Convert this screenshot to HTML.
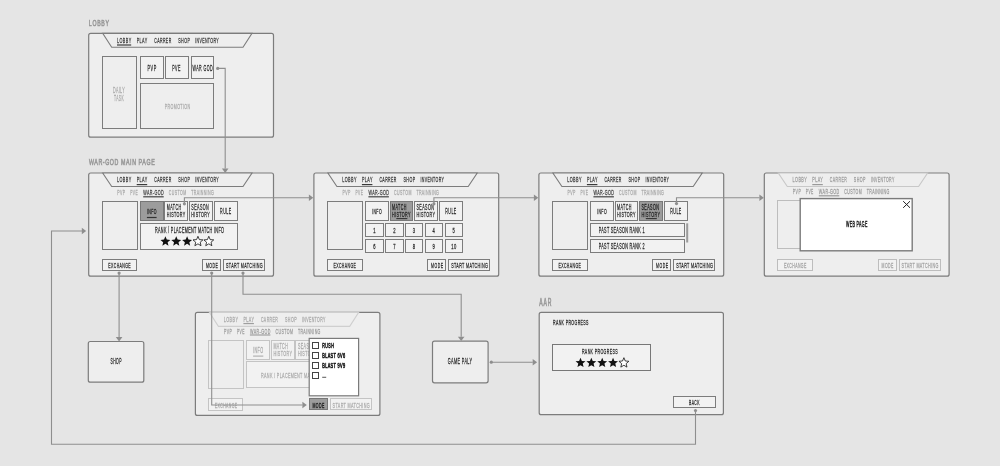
<!DOCTYPE html>
<html><head><meta charset="utf-8"><style>
html,body{margin:0;padding:0;background:#e5e5e5;width:1000px;height:466px;overflow:hidden;}
svg{display:block;will-change:transform;transform:translateZ(0);}
svg text{font-family:"Liberation Sans", sans-serif;}
</style></head><body>
<svg width="1000" height="466" viewBox="0 0 1000 466" font-family="Liberation Sans, sans-serif">
<rect x="0" y="0" width="1000" height="466" fill="#e5e5e5"/>
<text transform="translate(88.80,25.50) scale(0.527,1)" font-size="9.88" fill="#9a9a9a" font-weight="normal" stroke="#9a9a9a" stroke-width="0.55" vector-effect="non-scaling-stroke" textLength="38.33" lengthAdjust="spacing">LOBBY</text>
<text transform="translate(88.90,165.40) scale(0.553,1)" font-size="9.59" fill="#9a9a9a" font-weight="normal" stroke="#9a9a9a" stroke-width="0.55" vector-effect="non-scaling-stroke" textLength="118.99" lengthAdjust="spacing">WAR-GOD MAIN PAGE</text>
<text transform="translate(539.20,306.10) scale(0.468,1)" font-size="10.90" fill="#9a9a9a" font-weight="normal" stroke="#9a9a9a" stroke-width="0.55" vector-effect="non-scaling-stroke" textLength="26.06" lengthAdjust="spacing">AAR</text>
<rect x="88.70" y="33.40" width="184.80" height="103.80" rx="2" fill="#eeeeee" stroke="#7c7c7c" stroke-width="1.2"/>
<polygon points="102.70,33.40 252.00,33.40 243.00,47.30 111.70,47.30" fill="#eeeeee" stroke="#7c7c7c" stroke-width="1.1"/>
<text transform="translate(117.00,42.60) scale(0.496,1)" font-size="7.56" fill="#3a3a3a" font-weight="normal" stroke="#3a3a3a" stroke-width="0.22" vector-effect="non-scaling-stroke" textLength="28.64" lengthAdjust="spacing">LOBBY</text>
<path d="M117.00 45.00 L131.20 45.00" fill="none" stroke="#3a3a3a" stroke-width="1.2"/>
<text transform="translate(136.70,42.60) scale(0.492,1)" font-size="7.56" fill="#3a3a3a" font-weight="normal" stroke="#3a3a3a" stroke-width="0.22" vector-effect="non-scaling-stroke" textLength="21.33" lengthAdjust="spacing">PLAY</text>
<text transform="translate(154.20,42.60) scale(0.469,1)" font-size="7.56" fill="#3a3a3a" font-weight="normal" stroke="#3a3a3a" stroke-width="0.22" vector-effect="non-scaling-stroke" textLength="36.27" lengthAdjust="spacing">CARRER</text>
<text transform="translate(178.20,42.60) scale(0.481,1)" font-size="7.56" fill="#3a3a3a" font-weight="normal" stroke="#3a3a3a" stroke-width="0.22" vector-effect="non-scaling-stroke" textLength="24.34" lengthAdjust="spacing">SHOP</text>
<text transform="translate(195.20,42.60) scale(0.472,1)" font-size="7.56" fill="#3a3a3a" font-weight="normal" stroke="#3a3a3a" stroke-width="0.22" vector-effect="non-scaling-stroke" textLength="49.80" lengthAdjust="spacing">INVENTORY</text>
<rect x="102.50" y="56.50" width="34.00" height="72.00" rx="0" fill="#eeeeee" stroke="#7c7c7c" stroke-width="1"/>
<rect x="140.50" y="56.50" width="23.00" height="22.00" rx="0" fill="#f2f2f2" stroke="#7c7c7c" stroke-width="1"/>
<rect x="165.50" y="56.50" width="23.00" height="22.00" rx="0" fill="#f2f2f2" stroke="#7c7c7c" stroke-width="1"/>
<rect x="191.50" y="56.50" width="22.00" height="22.00" rx="0" fill="#f2f2f2" stroke="#7c7c7c" stroke-width="1"/>
<rect x="140.50" y="83.50" width="73.00" height="45.00" rx="0" fill="#eeeeee" stroke="#7c7c7c" stroke-width="1"/>
<text transform="translate(113.00,92.90) scale(0.430,1)" font-size="8.43" fill="#aaa" font-weight="normal" stroke="#aaa" stroke-width="0.2" vector-effect="non-scaling-stroke" textLength="26.98" lengthAdjust="spacing">DAILY</text>
<text transform="translate(114.00,101.00) scale(0.395,1)" font-size="8.43" fill="#aaa" font-weight="normal" stroke="#aaa" stroke-width="0.2" vector-effect="non-scaling-stroke" textLength="24.31" lengthAdjust="spacing">TASK</text>
<text transform="translate(164.70,109.30) scale(0.464,1)" font-size="7.85" fill="#aaa" font-weight="normal" stroke="#aaa" stroke-width="0.2" vector-effect="non-scaling-stroke" textLength="55.00" lengthAdjust="spacing">PROMOTION</text>
<text transform="translate(147.50,71.00) scale(0.454,1)" font-size="8.43" fill="#2a2a2a" font-weight="normal" stroke="#2a2a2a" stroke-width="0.22" vector-effect="non-scaling-stroke" textLength="19.17" lengthAdjust="spacing">PVP</text>
<text transform="translate(172.20,71.00) scale(0.428,1)" font-size="8.43" fill="#2a2a2a" font-weight="normal" stroke="#2a2a2a" stroke-width="0.22" vector-effect="non-scaling-stroke" textLength="19.17" lengthAdjust="spacing">PVE</text>
<text transform="translate(192.60,71.00) scale(0.428,1)" font-size="8.43" fill="#2a2a2a" font-weight="normal" stroke="#2a2a2a" stroke-width="0.22" vector-effect="non-scaling-stroke" textLength="46.48" lengthAdjust="spacing">WAR GOD</text>
<rect x="88.70" y="173.00" width="184.80" height="103.20" rx="2" fill="#eeeeee" stroke="#7c7c7c" stroke-width="1.2"/>
<polygon points="102.70,173.00 252.00,173.00 243.00,186.50 111.70,186.50" fill="#eeeeee" stroke="#7c7c7c" stroke-width="1.1"/>
<text transform="translate(117.00,182.20) scale(0.496,1)" font-size="7.56" fill="#3a3a3a" font-weight="normal" stroke="#3a3a3a" stroke-width="0.22" vector-effect="non-scaling-stroke" textLength="28.64" lengthAdjust="spacing">LOBBY</text>
<text transform="translate(136.70,182.20) scale(0.492,1)" font-size="7.56" fill="#3a3a3a" font-weight="normal" stroke="#3a3a3a" stroke-width="0.22" vector-effect="non-scaling-stroke" textLength="21.33" lengthAdjust="spacing">PLAY</text>
<path d="M136.70 184.60 L147.20 184.60" fill="none" stroke="#3a3a3a" stroke-width="1.2"/>
<text transform="translate(154.20,182.20) scale(0.469,1)" font-size="7.56" fill="#3a3a3a" font-weight="normal" stroke="#3a3a3a" stroke-width="0.22" vector-effect="non-scaling-stroke" textLength="36.27" lengthAdjust="spacing">CARRER</text>
<text transform="translate(178.20,182.20) scale(0.481,1)" font-size="7.56" fill="#3a3a3a" font-weight="normal" stroke="#3a3a3a" stroke-width="0.22" vector-effect="non-scaling-stroke" textLength="24.34" lengthAdjust="spacing">SHOP</text>
<text transform="translate(195.20,182.20) scale(0.472,1)" font-size="7.56" fill="#3a3a3a" font-weight="normal" stroke="#3a3a3a" stroke-width="0.22" vector-effect="non-scaling-stroke" textLength="49.80" lengthAdjust="spacing">INVENTORY</text>
<text transform="translate(117.20,195.20) scale(0.465,1)" font-size="7.56" fill="#a8a8a8" font-weight="normal" stroke="#a8a8a8" stroke-width="0.2" vector-effect="non-scaling-stroke" textLength="17.19" lengthAdjust="spacing">PVP</text>
<text transform="translate(130.20,195.20) scale(0.436,1)" font-size="7.56" fill="#a8a8a8" font-weight="normal" stroke="#a8a8a8" stroke-width="0.2" vector-effect="non-scaling-stroke" textLength="17.19" lengthAdjust="spacing">PVE</text>
<text transform="translate(143.20,195.20) scale(0.486,1)" font-size="7.56" fill="#444" font-weight="normal" stroke="#444" stroke-width="0.22" vector-effect="non-scaling-stroke" textLength="42.14" lengthAdjust="spacing">WAR-GOD</text>
<path d="M143.20 196.80 L163.70 196.80" fill="none" stroke="#444" stroke-width="1.2"/>
<text transform="translate(168.70,195.20) scale(0.472,1)" font-size="7.56" fill="#a8a8a8" font-weight="normal" stroke="#a8a8a8" stroke-width="0.2" vector-effect="non-scaling-stroke" textLength="37.06" lengthAdjust="spacing">CUSTOM</text>
<text transform="translate(191.20,195.20) scale(0.476,1)" font-size="7.56" fill="#a8a8a8" font-weight="normal" stroke="#a8a8a8" stroke-width="0.2" vector-effect="non-scaling-stroke" textLength="47.24" lengthAdjust="spacing">TRAINNING</text>
<rect x="102.50" y="201.50" width="35.00" height="48.00" rx="0" fill="#eeeeee" stroke="#7c7c7c" stroke-width="1"/>
<rect x="102.50" y="259.50" width="34.00" height="11.00" rx="0" fill="#f2f2f2" stroke="#7c7c7c" stroke-width="1"/>
<text transform="translate(108.30,268.10) scale(0.439,1)" font-size="7.99" fill="#2a2a2a" font-weight="normal" stroke="#2a2a2a" stroke-width="0.22" vector-effect="non-scaling-stroke" textLength="50.99" lengthAdjust="spacing">EXCHANGE</text>
<rect x="202.50" y="259.50" width="18.00" height="11.00" rx="0" fill="#f2f2f2" stroke="#7c7c7c" stroke-width="1"/>
<text transform="translate(205.90,268.10) scale(0.437,1)" font-size="7.99" fill="#2a2a2a" font-weight="normal" stroke="#2a2a2a" stroke-width="0.22" vector-effect="non-scaling-stroke" textLength="27.25" lengthAdjust="spacing">MODE</text>
<rect x="223.50" y="259.50" width="41.00" height="11.00" rx="0" fill="#f2f2f2" stroke="#7c7c7c" stroke-width="1"/>
<text transform="translate(226.00,268.10) scale(0.464,1)" font-size="7.99" fill="#2a2a2a" font-weight="normal" stroke="#2a2a2a" stroke-width="0.22" vector-effect="non-scaling-stroke" textLength="79.07" lengthAdjust="spacing">START MATCHING</text>
<rect x="140.50" y="201.50" width="23.00" height="19.00" rx="0" fill="#9c9c9c" stroke="#777" stroke-width="1"/>
<text transform="translate(146.90,214.20) scale(0.463,1)" font-size="7.56" fill="#222" font-weight="normal" stroke="#222" stroke-width="0.22" vector-effect="non-scaling-stroke" textLength="20.52" lengthAdjust="spacing">INFO</text>
<path d="M146.90 217.50 L156.60 217.50" fill="none" stroke="#333" stroke-width="1.2"/>
<rect x="164.50" y="201.50" width="23.00" height="19.00" rx="0" fill="#f2f2f2" stroke="#7c7c7c" stroke-width="1"/>
<text transform="translate(166.80,210.00) scale(0.447,1)" font-size="8.14" fill="#2a2a2a" font-weight="normal" stroke="#2a2a2a" stroke-width="0.22" vector-effect="non-scaling-stroke" textLength="32.20" lengthAdjust="spacing">MATCH</text>
<text transform="translate(166.80,216.60) scale(0.498,1)" font-size="7.41" fill="#2a2a2a" font-weight="normal" stroke="#2a2a2a" stroke-width="0.22" vector-effect="non-scaling-stroke" textLength="37.14" lengthAdjust="spacing">HISTORY</text>
<rect x="189.50" y="201.50" width="23.00" height="19.00" rx="0" fill="#f2f2f2" stroke="#7c7c7c" stroke-width="1"/>
<text transform="translate(191.30,210.00) scale(0.451,1)" font-size="8.14" fill="#2a2a2a" font-weight="normal" stroke="#2a2a2a" stroke-width="0.22" vector-effect="non-scaling-stroke" textLength="38.55" lengthAdjust="spacing">SEASON</text>
<text transform="translate(191.30,216.60) scale(0.498,1)" font-size="7.41" fill="#2a2a2a" font-weight="normal" stroke="#2a2a2a" stroke-width="0.22" vector-effect="non-scaling-stroke" textLength="37.14" lengthAdjust="spacing">HISTORY</text>
<rect x="214.50" y="201.50" width="23.00" height="19.00" rx="0" fill="#f2f2f2" stroke="#7c7c7c" stroke-width="1"/>
<text transform="translate(220.10,213.90) scale(0.438,1)" font-size="8.29" fill="#2a2a2a" font-weight="normal" stroke="#2a2a2a" stroke-width="0.22" vector-effect="non-scaling-stroke" textLength="25.11" lengthAdjust="spacing">RULE</text>
<rect x="140.50" y="223.50" width="97.00" height="26.00" rx="0" fill="#f2f2f2" stroke="#7c7c7c" stroke-width="1"/>
<text transform="translate(155.00,232.80) scale(0.446,1)" font-size="8.43" fill="#2a2a2a" font-weight="normal" stroke="#2a2a2a" stroke-width="0.22" vector-effect="non-scaling-stroke" textLength="154.54" lengthAdjust="spacing">RANK / PLACEMENT MATCH INFO</text>
<polygon points="165.40,236.30 166.78,239.61 170.35,239.89 167.63,242.22 168.46,245.71 165.40,243.84 162.34,245.71 163.17,242.22 160.45,239.89 164.02,239.61" fill="#111"/>
<polygon points="176.25,236.30 177.63,239.61 181.20,239.89 178.48,242.22 179.31,245.71 176.25,243.84 173.19,245.71 174.02,242.22 171.30,239.89 174.87,239.61" fill="#111"/>
<polygon points="187.10,236.30 188.48,239.61 192.05,239.89 189.33,242.22 190.16,245.71 187.10,243.84 184.04,245.71 184.87,242.22 182.15,239.89 185.72,239.61" fill="#111"/>
<polygon points="197.95,236.30 199.33,239.61 202.90,239.89 200.18,242.22 201.01,245.71 197.95,243.84 194.89,245.71 195.72,242.22 193.00,239.89 196.57,239.61" fill="#fff" stroke="#111" stroke-width="0.8"/>
<polygon points="208.80,236.30 210.18,239.61 213.75,239.89 211.03,242.22 211.86,245.71 208.80,243.84 205.74,245.71 206.57,242.22 203.85,239.89 207.42,239.61" fill="#fff" stroke="#111" stroke-width="0.8"/>
<rect x="313.90" y="173.00" width="184.80" height="103.20" rx="2" fill="#eeeeee" stroke="#7c7c7c" stroke-width="1.2"/>
<polygon points="327.90,173.00 477.20,173.00 468.20,186.50 336.90,186.50" fill="#eeeeee" stroke="#7c7c7c" stroke-width="1.1"/>
<text transform="translate(342.20,182.20) scale(0.496,1)" font-size="7.56" fill="#3a3a3a" font-weight="normal" stroke="#3a3a3a" stroke-width="0.22" vector-effect="non-scaling-stroke" textLength="28.64" lengthAdjust="spacing">LOBBY</text>
<text transform="translate(361.90,182.20) scale(0.492,1)" font-size="7.56" fill="#3a3a3a" font-weight="normal" stroke="#3a3a3a" stroke-width="0.22" vector-effect="non-scaling-stroke" textLength="21.33" lengthAdjust="spacing">PLAY</text>
<path d="M361.90 184.60 L372.40 184.60" fill="none" stroke="#3a3a3a" stroke-width="1.2"/>
<text transform="translate(379.40,182.20) scale(0.469,1)" font-size="7.56" fill="#3a3a3a" font-weight="normal" stroke="#3a3a3a" stroke-width="0.22" vector-effect="non-scaling-stroke" textLength="36.27" lengthAdjust="spacing">CARRER</text>
<text transform="translate(403.40,182.20) scale(0.481,1)" font-size="7.56" fill="#3a3a3a" font-weight="normal" stroke="#3a3a3a" stroke-width="0.22" vector-effect="non-scaling-stroke" textLength="24.34" lengthAdjust="spacing">SHOP</text>
<text transform="translate(420.40,182.20) scale(0.472,1)" font-size="7.56" fill="#3a3a3a" font-weight="normal" stroke="#3a3a3a" stroke-width="0.22" vector-effect="non-scaling-stroke" textLength="49.80" lengthAdjust="spacing">INVENTORY</text>
<text transform="translate(342.40,195.20) scale(0.465,1)" font-size="7.56" fill="#a8a8a8" font-weight="normal" stroke="#a8a8a8" stroke-width="0.2" vector-effect="non-scaling-stroke" textLength="17.19" lengthAdjust="spacing">PVP</text>
<text transform="translate(355.40,195.20) scale(0.436,1)" font-size="7.56" fill="#a8a8a8" font-weight="normal" stroke="#a8a8a8" stroke-width="0.2" vector-effect="non-scaling-stroke" textLength="17.19" lengthAdjust="spacing">PVE</text>
<text transform="translate(368.40,195.20) scale(0.486,1)" font-size="7.56" fill="#444" font-weight="normal" stroke="#444" stroke-width="0.22" vector-effect="non-scaling-stroke" textLength="42.14" lengthAdjust="spacing">WAR-GOD</text>
<path d="M368.40 196.80 L388.90 196.80" fill="none" stroke="#444" stroke-width="1.2"/>
<text transform="translate(393.90,195.20) scale(0.472,1)" font-size="7.56" fill="#a8a8a8" font-weight="normal" stroke="#a8a8a8" stroke-width="0.2" vector-effect="non-scaling-stroke" textLength="37.06" lengthAdjust="spacing">CUSTOM</text>
<text transform="translate(416.40,195.20) scale(0.476,1)" font-size="7.56" fill="#a8a8a8" font-weight="normal" stroke="#a8a8a8" stroke-width="0.2" vector-effect="non-scaling-stroke" textLength="47.24" lengthAdjust="spacing">TRAINNING</text>
<rect x="327.50" y="201.50" width="35.00" height="48.00" rx="0" fill="#eeeeee" stroke="#7c7c7c" stroke-width="1"/>
<rect x="327.50" y="259.50" width="35.00" height="11.00" rx="0" fill="#f2f2f2" stroke="#7c7c7c" stroke-width="1"/>
<text transform="translate(333.50,268.10) scale(0.439,1)" font-size="7.99" fill="#2a2a2a" font-weight="normal" stroke="#2a2a2a" stroke-width="0.22" vector-effect="non-scaling-stroke" textLength="50.99" lengthAdjust="spacing">EXCHANGE</text>
<rect x="427.50" y="259.50" width="18.00" height="11.00" rx="0" fill="#f2f2f2" stroke="#7c7c7c" stroke-width="1"/>
<text transform="translate(431.10,268.10) scale(0.437,1)" font-size="7.99" fill="#2a2a2a" font-weight="normal" stroke="#2a2a2a" stroke-width="0.22" vector-effect="non-scaling-stroke" textLength="27.25" lengthAdjust="spacing">MODE</text>
<rect x="448.50" y="259.50" width="41.00" height="11.00" rx="0" fill="#f2f2f2" stroke="#7c7c7c" stroke-width="1"/>
<text transform="translate(451.20,268.10) scale(0.464,1)" font-size="7.99" fill="#2a2a2a" font-weight="normal" stroke="#2a2a2a" stroke-width="0.22" vector-effect="non-scaling-stroke" textLength="79.07" lengthAdjust="spacing">START MATCHING</text>
<rect x="365.50" y="201.50" width="23.00" height="19.00" rx="0" fill="#f2f2f2" stroke="#7c7c7c" stroke-width="1"/>
<text transform="translate(372.10,214.20) scale(0.463,1)" font-size="7.56" fill="#2a2a2a" font-weight="normal" stroke="#2a2a2a" stroke-width="0.22" vector-effect="non-scaling-stroke" textLength="20.52" lengthAdjust="spacing">INFO</text>
<rect x="390.50" y="201.50" width="22.00" height="19.00" rx="0" fill="#9c9c9c" stroke="#777" stroke-width="1"/>
<text transform="translate(392.00,210.00) scale(0.447,1)" font-size="8.14" fill="#222" font-weight="normal" stroke="#222" stroke-width="0.22" vector-effect="non-scaling-stroke" textLength="32.20" lengthAdjust="spacing">MATCH</text>
<text transform="translate(392.00,216.60) scale(0.498,1)" font-size="7.41" fill="#222" font-weight="normal" stroke="#222" stroke-width="0.22" vector-effect="non-scaling-stroke" textLength="37.14" lengthAdjust="spacing">HISTORY</text>
<path d="M396.30 218.60 L407.30 218.60" fill="none" stroke="#333" stroke-width="1.1"/>
<rect x="414.50" y="201.50" width="23.00" height="19.00" rx="0" fill="#f2f2f2" stroke="#7c7c7c" stroke-width="1"/>
<text transform="translate(416.50,210.00) scale(0.451,1)" font-size="8.14" fill="#2a2a2a" font-weight="normal" stroke="#2a2a2a" stroke-width="0.22" vector-effect="non-scaling-stroke" textLength="38.55" lengthAdjust="spacing">SEASON</text>
<text transform="translate(416.50,216.60) scale(0.498,1)" font-size="7.41" fill="#2a2a2a" font-weight="normal" stroke="#2a2a2a" stroke-width="0.22" vector-effect="non-scaling-stroke" textLength="37.14" lengthAdjust="spacing">HISTORY</text>
<rect x="439.50" y="201.50" width="23.00" height="19.00" rx="0" fill="#f2f2f2" stroke="#7c7c7c" stroke-width="1"/>
<text transform="translate(445.30,213.90) scale(0.438,1)" font-size="8.29" fill="#2a2a2a" font-weight="normal" stroke="#2a2a2a" stroke-width="0.22" vector-effect="non-scaling-stroke" textLength="25.11" lengthAdjust="spacing">RULE</text>
<rect x="365.50" y="223.50" width="18.00" height="13.00" rx="0" fill="#f2f2f2" stroke="#7c7c7c" stroke-width="1"/>
<text transform="translate(373.15,232.70) scale(0.544,1)" font-size="7.56" fill="#2a2a2a" font-weight="normal" stroke="#2a2a2a" stroke-width="0.22" vector-effect="non-scaling-stroke" textLength="4.78" lengthAdjust="spacing">1</text>
<rect x="385.50" y="223.50" width="18.00" height="13.00" rx="0" fill="#f2f2f2" stroke="#7c7c7c" stroke-width="1"/>
<text transform="translate(393.15,232.70) scale(0.544,1)" font-size="7.56" fill="#2a2a2a" font-weight="normal" stroke="#2a2a2a" stroke-width="0.22" vector-effect="non-scaling-stroke" textLength="4.78" lengthAdjust="spacing">2</text>
<rect x="405.50" y="223.50" width="17.00" height="13.00" rx="0" fill="#f2f2f2" stroke="#7c7c7c" stroke-width="1"/>
<text transform="translate(412.85,232.70) scale(0.544,1)" font-size="7.56" fill="#2a2a2a" font-weight="normal" stroke="#2a2a2a" stroke-width="0.22" vector-effect="non-scaling-stroke" textLength="4.78" lengthAdjust="spacing">3</text>
<rect x="425.50" y="223.50" width="17.00" height="13.00" rx="0" fill="#f2f2f2" stroke="#7c7c7c" stroke-width="1"/>
<text transform="translate(432.55,232.70) scale(0.544,1)" font-size="7.56" fill="#2a2a2a" font-weight="normal" stroke="#2a2a2a" stroke-width="0.22" vector-effect="non-scaling-stroke" textLength="4.78" lengthAdjust="spacing">4</text>
<rect x="445.50" y="223.50" width="17.00" height="13.00" rx="0" fill="#f2f2f2" stroke="#7c7c7c" stroke-width="1"/>
<text transform="translate(452.45,232.70) scale(0.544,1)" font-size="7.56" fill="#2a2a2a" font-weight="normal" stroke="#2a2a2a" stroke-width="0.22" vector-effect="non-scaling-stroke" textLength="4.78" lengthAdjust="spacing">5</text>
<rect x="365.50" y="239.50" width="18.00" height="13.00" rx="0" fill="#f2f2f2" stroke="#7c7c7c" stroke-width="1"/>
<text transform="translate(373.15,248.70) scale(0.544,1)" font-size="7.56" fill="#2a2a2a" font-weight="normal" stroke="#2a2a2a" stroke-width="0.22" vector-effect="non-scaling-stroke" textLength="4.78" lengthAdjust="spacing">6</text>
<rect x="385.50" y="239.50" width="18.00" height="13.00" rx="0" fill="#f2f2f2" stroke="#7c7c7c" stroke-width="1"/>
<text transform="translate(393.15,248.70) scale(0.544,1)" font-size="7.56" fill="#2a2a2a" font-weight="normal" stroke="#2a2a2a" stroke-width="0.22" vector-effect="non-scaling-stroke" textLength="4.78" lengthAdjust="spacing">7</text>
<rect x="405.50" y="239.50" width="17.00" height="13.00" rx="0" fill="#f2f2f2" stroke="#7c7c7c" stroke-width="1"/>
<text transform="translate(412.85,248.70) scale(0.544,1)" font-size="7.56" fill="#2a2a2a" font-weight="normal" stroke="#2a2a2a" stroke-width="0.22" vector-effect="non-scaling-stroke" textLength="4.78" lengthAdjust="spacing">8</text>
<rect x="425.50" y="239.50" width="17.00" height="13.00" rx="0" fill="#f2f2f2" stroke="#7c7c7c" stroke-width="1"/>
<text transform="translate(432.55,248.70) scale(0.544,1)" font-size="7.56" fill="#2a2a2a" font-weight="normal" stroke="#2a2a2a" stroke-width="0.22" vector-effect="non-scaling-stroke" textLength="4.78" lengthAdjust="spacing">9</text>
<rect x="445.50" y="239.50" width="17.00" height="13.00" rx="0" fill="#f2f2f2" stroke="#7c7c7c" stroke-width="1"/>
<text transform="translate(451.15,248.70) scale(0.544,1)" font-size="7.56" fill="#2a2a2a" font-weight="normal" stroke="#2a2a2a" stroke-width="0.22" vector-effect="non-scaling-stroke" textLength="9.55" lengthAdjust="spacing">10</text>
<rect x="538.90" y="173.00" width="184.80" height="103.20" rx="2" fill="#eeeeee" stroke="#7c7c7c" stroke-width="1.2"/>
<polygon points="552.90,173.00 702.20,173.00 693.20,186.50 561.90,186.50" fill="#eeeeee" stroke="#7c7c7c" stroke-width="1.1"/>
<text transform="translate(567.20,182.20) scale(0.496,1)" font-size="7.56" fill="#3a3a3a" font-weight="normal" stroke="#3a3a3a" stroke-width="0.22" vector-effect="non-scaling-stroke" textLength="28.64" lengthAdjust="spacing">LOBBY</text>
<text transform="translate(586.90,182.20) scale(0.492,1)" font-size="7.56" fill="#3a3a3a" font-weight="normal" stroke="#3a3a3a" stroke-width="0.22" vector-effect="non-scaling-stroke" textLength="21.33" lengthAdjust="spacing">PLAY</text>
<path d="M586.90 184.60 L597.40 184.60" fill="none" stroke="#3a3a3a" stroke-width="1.2"/>
<text transform="translate(604.40,182.20) scale(0.469,1)" font-size="7.56" fill="#3a3a3a" font-weight="normal" stroke="#3a3a3a" stroke-width="0.22" vector-effect="non-scaling-stroke" textLength="36.27" lengthAdjust="spacing">CARRER</text>
<text transform="translate(628.40,182.20) scale(0.481,1)" font-size="7.56" fill="#3a3a3a" font-weight="normal" stroke="#3a3a3a" stroke-width="0.22" vector-effect="non-scaling-stroke" textLength="24.34" lengthAdjust="spacing">SHOP</text>
<text transform="translate(645.40,182.20) scale(0.472,1)" font-size="7.56" fill="#3a3a3a" font-weight="normal" stroke="#3a3a3a" stroke-width="0.22" vector-effect="non-scaling-stroke" textLength="49.80" lengthAdjust="spacing">INVENTORY</text>
<text transform="translate(567.40,195.20) scale(0.465,1)" font-size="7.56" fill="#a8a8a8" font-weight="normal" stroke="#a8a8a8" stroke-width="0.2" vector-effect="non-scaling-stroke" textLength="17.19" lengthAdjust="spacing">PVP</text>
<text transform="translate(580.40,195.20) scale(0.436,1)" font-size="7.56" fill="#a8a8a8" font-weight="normal" stroke="#a8a8a8" stroke-width="0.2" vector-effect="non-scaling-stroke" textLength="17.19" lengthAdjust="spacing">PVE</text>
<text transform="translate(593.40,195.20) scale(0.486,1)" font-size="7.56" fill="#444" font-weight="normal" stroke="#444" stroke-width="0.22" vector-effect="non-scaling-stroke" textLength="42.14" lengthAdjust="spacing">WAR-GOD</text>
<path d="M593.40 196.80 L613.90 196.80" fill="none" stroke="#444" stroke-width="1.2"/>
<text transform="translate(618.90,195.20) scale(0.472,1)" font-size="7.56" fill="#a8a8a8" font-weight="normal" stroke="#a8a8a8" stroke-width="0.2" vector-effect="non-scaling-stroke" textLength="37.06" lengthAdjust="spacing">CUSTOM</text>
<text transform="translate(641.40,195.20) scale(0.476,1)" font-size="7.56" fill="#a8a8a8" font-weight="normal" stroke="#a8a8a8" stroke-width="0.2" vector-effect="non-scaling-stroke" textLength="47.24" lengthAdjust="spacing">TRAINNING</text>
<rect x="552.50" y="201.50" width="35.00" height="48.00" rx="0" fill="#eeeeee" stroke="#7c7c7c" stroke-width="1"/>
<rect x="552.50" y="259.50" width="35.00" height="11.00" rx="0" fill="#f2f2f2" stroke="#7c7c7c" stroke-width="1"/>
<text transform="translate(558.50,268.10) scale(0.439,1)" font-size="7.99" fill="#2a2a2a" font-weight="normal" stroke="#2a2a2a" stroke-width="0.22" vector-effect="non-scaling-stroke" textLength="50.99" lengthAdjust="spacing">EXCHANGE</text>
<rect x="652.50" y="259.50" width="18.00" height="11.00" rx="0" fill="#f2f2f2" stroke="#7c7c7c" stroke-width="1"/>
<text transform="translate(656.10,268.10) scale(0.437,1)" font-size="7.99" fill="#2a2a2a" font-weight="normal" stroke="#2a2a2a" stroke-width="0.22" vector-effect="non-scaling-stroke" textLength="27.25" lengthAdjust="spacing">MODE</text>
<rect x="673.50" y="259.50" width="41.00" height="11.00" rx="0" fill="#f2f2f2" stroke="#7c7c7c" stroke-width="1"/>
<text transform="translate(676.20,268.10) scale(0.464,1)" font-size="7.99" fill="#2a2a2a" font-weight="normal" stroke="#2a2a2a" stroke-width="0.22" vector-effect="non-scaling-stroke" textLength="79.07" lengthAdjust="spacing">START MATCHING</text>
<rect x="590.50" y="201.50" width="23.00" height="19.00" rx="0" fill="#f2f2f2" stroke="#7c7c7c" stroke-width="1"/>
<text transform="translate(597.10,214.20) scale(0.463,1)" font-size="7.56" fill="#2a2a2a" font-weight="normal" stroke="#2a2a2a" stroke-width="0.22" vector-effect="non-scaling-stroke" textLength="20.52" lengthAdjust="spacing">INFO</text>
<rect x="615.50" y="201.50" width="22.00" height="19.00" rx="0" fill="#f2f2f2" stroke="#7c7c7c" stroke-width="1"/>
<text transform="translate(617.00,210.00) scale(0.447,1)" font-size="8.14" fill="#2a2a2a" font-weight="normal" stroke="#2a2a2a" stroke-width="0.22" vector-effect="non-scaling-stroke" textLength="32.20" lengthAdjust="spacing">MATCH</text>
<text transform="translate(617.00,216.60) scale(0.498,1)" font-size="7.41" fill="#2a2a2a" font-weight="normal" stroke="#2a2a2a" stroke-width="0.22" vector-effect="non-scaling-stroke" textLength="37.14" lengthAdjust="spacing">HISTORY</text>
<rect x="639.50" y="201.50" width="23.00" height="19.00" rx="0" fill="#9c9c9c" stroke="#777" stroke-width="1"/>
<text transform="translate(641.50,210.00) scale(0.451,1)" font-size="8.14" fill="#222" font-weight="normal" stroke="#222" stroke-width="0.22" vector-effect="non-scaling-stroke" textLength="38.55" lengthAdjust="spacing">SEASON</text>
<text transform="translate(641.50,216.60) scale(0.498,1)" font-size="7.41" fill="#222" font-weight="normal" stroke="#222" stroke-width="0.22" vector-effect="non-scaling-stroke" textLength="37.14" lengthAdjust="spacing">HISTORY</text>
<path d="M645.80 218.60 L656.80 218.60" fill="none" stroke="#333" stroke-width="1.1"/>
<rect x="664.50" y="201.50" width="23.00" height="19.00" rx="0" fill="#f2f2f2" stroke="#7c7c7c" stroke-width="1"/>
<text transform="translate(670.30,213.90) scale(0.438,1)" font-size="8.29" fill="#2a2a2a" font-weight="normal" stroke="#2a2a2a" stroke-width="0.22" vector-effect="non-scaling-stroke" textLength="25.11" lengthAdjust="spacing">RULE</text>
<rect x="590.50" y="223.50" width="94.00" height="13.00" rx="0" fill="#f2f2f2" stroke="#7c7c7c" stroke-width="1"/>
<text transform="translate(598.80,232.80) scale(0.455,1)" font-size="8.14" fill="#2a2a2a" font-weight="normal" stroke="#2a2a2a" stroke-width="0.22" vector-effect="non-scaling-stroke" textLength="100.41" lengthAdjust="spacing">PAST SEASON RANK 1</text>
<rect x="590.50" y="239.50" width="94.00" height="13.00" rx="0" fill="#f2f2f2" stroke="#7c7c7c" stroke-width="1"/>
<text transform="translate(598.80,248.80) scale(0.455,1)" font-size="8.14" fill="#2a2a2a" font-weight="normal" stroke="#2a2a2a" stroke-width="0.22" vector-effect="non-scaling-stroke" textLength="100.41" lengthAdjust="spacing">PAST SEASON RANK 2</text>
<rect x="686.20" y="223.30" width="2" height="19.2" fill="#9a9a9a"/>
<rect x="764.30" y="173.00" width="184.80" height="103.20" rx="2" fill="#eeeeee" stroke="#7c7c7c" stroke-width="1.2"/>
<polygon points="778.30,173.00 927.60,173.00 918.60,186.50 787.30,186.50" fill="#eeeeee" stroke="#c8c8c8" stroke-width="1.1"/>
<text transform="translate(792.60,182.20) scale(0.496,1)" font-size="7.56" fill="#9a9a9a" font-weight="normal" stroke="#9a9a9a" stroke-width="0.2" vector-effect="non-scaling-stroke" textLength="28.64" lengthAdjust="spacing">LOBBY</text>
<text transform="translate(812.30,182.20) scale(0.492,1)" font-size="7.56" fill="#9a9a9a" font-weight="normal" stroke="#9a9a9a" stroke-width="0.2" vector-effect="non-scaling-stroke" textLength="21.33" lengthAdjust="spacing">PLAY</text>
<path d="M812.30 184.60 L822.80 184.60" fill="none" stroke="#999" stroke-width="1.2"/>
<text transform="translate(829.80,182.20) scale(0.469,1)" font-size="7.56" fill="#9a9a9a" font-weight="normal" stroke="#9a9a9a" stroke-width="0.2" vector-effect="non-scaling-stroke" textLength="36.27" lengthAdjust="spacing">CARRER</text>
<text transform="translate(853.80,182.20) scale(0.481,1)" font-size="7.56" fill="#9a9a9a" font-weight="normal" stroke="#9a9a9a" stroke-width="0.2" vector-effect="non-scaling-stroke" textLength="24.34" lengthAdjust="spacing">SHOP</text>
<text transform="translate(870.80,182.20) scale(0.472,1)" font-size="7.56" fill="#9a9a9a" font-weight="normal" stroke="#9a9a9a" stroke-width="0.2" vector-effect="non-scaling-stroke" textLength="49.80" lengthAdjust="spacing">INVENTORY</text>
<text transform="translate(792.80,194.20) scale(0.465,1)" font-size="7.56" fill="#9a9a9a" font-weight="normal" stroke="#9a9a9a" stroke-width="0.2" vector-effect="non-scaling-stroke" textLength="17.19" lengthAdjust="spacing">PVP</text>
<text transform="translate(805.80,194.20) scale(0.436,1)" font-size="7.56" fill="#9a9a9a" font-weight="normal" stroke="#9a9a9a" stroke-width="0.2" vector-effect="non-scaling-stroke" textLength="17.19" lengthAdjust="spacing">PVE</text>
<text transform="translate(818.80,194.20) scale(0.486,1)" font-size="7.56" fill="#9a9a9a" font-weight="normal" stroke="#9a9a9a" stroke-width="0.2" vector-effect="non-scaling-stroke" textLength="42.14" lengthAdjust="spacing">WAR-GOD</text>
<path d="M818.80 195.80 L839.30 195.80" fill="none" stroke="#9a9a9a" stroke-width="1.2"/>
<text transform="translate(844.30,194.20) scale(0.472,1)" font-size="7.56" fill="#9a9a9a" font-weight="normal" stroke="#9a9a9a" stroke-width="0.2" vector-effect="non-scaling-stroke" textLength="37.06" lengthAdjust="spacing">CUSTOM</text>
<text transform="translate(866.80,194.20) scale(0.476,1)" font-size="7.56" fill="#9a9a9a" font-weight="normal" stroke="#9a9a9a" stroke-width="0.2" vector-effect="non-scaling-stroke" textLength="47.24" lengthAdjust="spacing">TRAINNING</text>
<rect x="777.50" y="200.50" width="35.00" height="48.00" rx="0" fill="#eeeeee" stroke="#bdbdbd" stroke-width="1"/>
<rect x="777.50" y="259.50" width="35.00" height="11.00" rx="0" fill="#f2f2f2" stroke="#bdbdbd" stroke-width="1"/>
<text transform="translate(783.90,268.10) scale(0.439,1)" font-size="7.99" fill="#a0a0a0" font-weight="normal" stroke="#a0a0a0" stroke-width="0.2" vector-effect="non-scaling-stroke" textLength="50.99" lengthAdjust="spacing">EXCHANGE</text>
<rect x="878.50" y="259.50" width="18.00" height="11.00" rx="0" fill="#f2f2f2" stroke="#bdbdbd" stroke-width="1"/>
<text transform="translate(881.50,268.10) scale(0.437,1)" font-size="7.99" fill="#a0a0a0" font-weight="normal" stroke="#a0a0a0" stroke-width="0.2" vector-effect="non-scaling-stroke" textLength="27.25" lengthAdjust="spacing">MODE</text>
<rect x="899.50" y="259.50" width="41.00" height="11.00" rx="0" fill="#f2f2f2" stroke="#bdbdbd" stroke-width="1"/>
<text transform="translate(901.60,268.10) scale(0.464,1)" font-size="7.99" fill="#a0a0a0" font-weight="normal" stroke="#a0a0a0" stroke-width="0.2" vector-effect="non-scaling-stroke" textLength="79.07" lengthAdjust="spacing">START MATCHING</text>
<rect x="800.2" y="198.6" width="112" height="52.2" fill="#fff" stroke="#7a7a7a" stroke-width="1.4"/>
<path d="M903.20 201.20 L910.00 207.80" fill="none" stroke="#222" stroke-width="1.0"/>
<path d="M910.00 201.20 L903.20 207.80" fill="none" stroke="#222" stroke-width="1.0"/>
<text transform="translate(846.00,226.80) scale(0.438,1)" font-size="8.14" fill="#222" font-weight="normal" stroke="#222" stroke-width="0.4" vector-effect="non-scaling-stroke" textLength="48.66" lengthAdjust="spacing">WEB PAGE</text>
<rect x="195.40" y="312.40" width="184.50" height="103.00" rx="2" fill="#eeeeee" stroke="#7c7c7c" stroke-width="1.2"/>
<polygon points="209.40,312.40 358.70,312.40 349.70,326.40 218.40,326.40" fill="#eeeeee" stroke="#cfcfcf" stroke-width="1.1"/>
<text transform="translate(223.70,321.60) scale(0.496,1)" font-size="7.56" fill="#a8a8a8" font-weight="normal" stroke="#a8a8a8" stroke-width="0.2" vector-effect="non-scaling-stroke" textLength="28.64" lengthAdjust="spacing">LOBBY</text>
<text transform="translate(243.40,321.60) scale(0.492,1)" font-size="7.56" fill="#a8a8a8" font-weight="normal" stroke="#a8a8a8" stroke-width="0.2" vector-effect="non-scaling-stroke" textLength="21.33" lengthAdjust="spacing">PLAY</text>
<path d="M243.40 323.60 L253.90 323.60" fill="none" stroke="#999" stroke-width="1.1"/>
<text transform="translate(260.90,321.60) scale(0.469,1)" font-size="7.56" fill="#a8a8a8" font-weight="normal" stroke="#a8a8a8" stroke-width="0.2" vector-effect="non-scaling-stroke" textLength="36.27" lengthAdjust="spacing">CARRER</text>
<text transform="translate(284.90,321.60) scale(0.481,1)" font-size="7.56" fill="#a8a8a8" font-weight="normal" stroke="#a8a8a8" stroke-width="0.2" vector-effect="non-scaling-stroke" textLength="24.34" lengthAdjust="spacing">SHOP</text>
<text transform="translate(301.90,321.60) scale(0.472,1)" font-size="7.56" fill="#a8a8a8" font-weight="normal" stroke="#a8a8a8" stroke-width="0.2" vector-effect="non-scaling-stroke" textLength="49.80" lengthAdjust="spacing">INVENTORY</text>
<text transform="translate(223.90,333.60) scale(0.465,1)" font-size="7.56" fill="#9a9a9a" font-weight="normal" stroke="#9a9a9a" stroke-width="0.2" vector-effect="non-scaling-stroke" textLength="17.19" lengthAdjust="spacing">PVP</text>
<text transform="translate(236.90,333.60) scale(0.436,1)" font-size="7.56" fill="#9a9a9a" font-weight="normal" stroke="#9a9a9a" stroke-width="0.2" vector-effect="non-scaling-stroke" textLength="17.19" lengthAdjust="spacing">PVE</text>
<text transform="translate(249.90,333.60) scale(0.486,1)" font-size="7.56" fill="#9a9a9a" font-weight="normal" stroke="#9a9a9a" stroke-width="0.2" vector-effect="non-scaling-stroke" textLength="42.14" lengthAdjust="spacing">WAR-GOD</text>
<path d="M249.90 335.00 L270.40 335.00" fill="none" stroke="#9a9a9a" stroke-width="1.1"/>
<text transform="translate(275.40,333.60) scale(0.472,1)" font-size="7.56" fill="#9a9a9a" font-weight="normal" stroke="#9a9a9a" stroke-width="0.2" vector-effect="non-scaling-stroke" textLength="37.06" lengthAdjust="spacing">CUSTOM</text>
<text transform="translate(297.90,333.60) scale(0.476,1)" font-size="7.56" fill="#9a9a9a" font-weight="normal" stroke="#9a9a9a" stroke-width="0.2" vector-effect="non-scaling-stroke" textLength="47.24" lengthAdjust="spacing">TRAINNING</text>
<rect x="208.50" y="340.50" width="35.00" height="48.00" rx="0" fill="#eeeeee" stroke="#c4c4c4" stroke-width="1"/>
<rect x="246.50" y="340.50" width="23.00" height="19.00" rx="0" fill="#f2f2f2" stroke="#c4c4c4" stroke-width="1"/>
<text transform="translate(253.10,353.20) scale(0.437,1)" font-size="8.43" fill="#aaa" font-weight="normal" stroke="#aaa" stroke-width="0.2" vector-effect="non-scaling-stroke" textLength="22.88" lengthAdjust="spacing">INFO</text>
<path d="M253.10 356.10 L263.30 356.10" fill="none" stroke="#aaa" stroke-width="1.1"/>
<rect x="271.50" y="340.50" width="23.00" height="19.00" rx="0" fill="#f2f2f2" stroke="#c4c4c4" stroke-width="1"/>
<text transform="translate(273.40,348.60) scale(0.447,1)" font-size="8.14" fill="#aaa" font-weight="normal" stroke="#aaa" stroke-width="0.2" vector-effect="non-scaling-stroke" textLength="32.20" lengthAdjust="spacing">MATCH</text>
<text transform="translate(273.40,355.50) scale(0.489,1)" font-size="7.56" fill="#aaa" font-weight="normal" stroke="#aaa" stroke-width="0.2" vector-effect="non-scaling-stroke" textLength="37.87" lengthAdjust="spacing">HISTORY</text>
<rect x="295.50" y="340.50" width="24.00" height="19.00" rx="0" fill="#f2f2f2" stroke="#c4c4c4" stroke-width="1"/>
<text transform="translate(297.90,348.60) scale(0.451,1)" font-size="8.14" fill="#aaa" font-weight="normal" stroke="#aaa" stroke-width="0.2" vector-effect="non-scaling-stroke" textLength="38.55" lengthAdjust="spacing">SEASON</text>
<text transform="translate(297.90,355.50) scale(0.489,1)" font-size="7.56" fill="#aaa" font-weight="normal" stroke="#aaa" stroke-width="0.2" vector-effect="non-scaling-stroke" textLength="37.87" lengthAdjust="spacing">HISTORY</text>
<rect x="320.50" y="340.50" width="24.00" height="19.00" rx="0" fill="#f2f2f2" stroke="#c4c4c4" stroke-width="1"/>
<rect x="246.50" y="361.50" width="98.00" height="26.00" rx="0" fill="#f2f2f2" stroke="#c4c4c4" stroke-width="1"/>
<text transform="translate(261.00,378.20) scale(0.471,1)" font-size="7.99" fill="#aaa" font-weight="normal" stroke="#aaa" stroke-width="0.2" vector-effect="non-scaling-stroke" textLength="146.54" lengthAdjust="spacing">RANK / PLACEMENT MATCH INFO</text>
<rect x="208.50" y="398.50" width="34.00" height="12.00" rx="0" fill="#f2f2f2" stroke="#c4c4c4" stroke-width="1"/>
<text transform="translate(214.80,407.60) scale(0.447,1)" font-size="7.85" fill="#aaa" font-weight="normal" stroke="#aaa" stroke-width="0.2" vector-effect="non-scaling-stroke" textLength="50.06" lengthAdjust="spacing">EXCHANGE</text>
<rect x="309.50" y="398.50" width="18.00" height="11.00" rx="0" fill="#9c9c9c" stroke="#777" stroke-width="1"/>
<text transform="translate(312.40,407.60) scale(0.448,1)" font-size="7.85" fill="#222" font-weight="normal" stroke="#222" stroke-width="0.3" vector-effect="non-scaling-stroke" textLength="26.76" lengthAdjust="spacing">MODE</text>
<rect x="330.50" y="398.50" width="41.00" height="11.00" rx="0" fill="#f2f2f2" stroke="#c4c4c4" stroke-width="1"/>
<text transform="translate(332.60,407.60) scale(0.477,1)" font-size="7.85" fill="#aaa" font-weight="normal" stroke="#aaa" stroke-width="0.2" vector-effect="non-scaling-stroke" textLength="77.63" lengthAdjust="spacing">START MATCHING</text>
<rect x="309.2" y="338.4" width="49.4" height="57.4" fill="#fff" stroke="#7a7a7a" stroke-width="1.2"/>
<rect x="312.50" y="342.50" width="6.00" height="6.00" rx="0" fill="#fff" stroke="#444" stroke-width="1"/>
<text transform="translate(322.20,348.40) scale(0.496,1)" font-size="7.27" fill="#222" font-weight="normal" stroke="#222" stroke-width="0.55" vector-effect="non-scaling-stroke" textLength="23.40" lengthAdjust="spacing">RUSH</text>
<rect x="312.50" y="352.50" width="6.00" height="6.00" rx="0" fill="#fff" stroke="#444" stroke-width="1"/>
<text transform="translate(322.20,358.40) scale(0.535,1)" font-size="7.27" fill="#222" font-weight="normal" stroke="#222" stroke-width="0.55" vector-effect="non-scaling-stroke" textLength="43.00" lengthAdjust="spacing">BLAST 6V6</text>
<rect x="312.50" y="362.50" width="6.00" height="6.00" rx="0" fill="#fff" stroke="#444" stroke-width="1"/>
<text transform="translate(322.20,368.10) scale(0.535,1)" font-size="7.27" fill="#222" font-weight="normal" stroke="#222" stroke-width="0.55" vector-effect="non-scaling-stroke" textLength="43.00" lengthAdjust="spacing">BLAST 9V9</text>
<rect x="312.50" y="372.50" width="6.00" height="6.00" rx="0" fill="#fff" stroke="#444" stroke-width="1"/>
<rect x="322.2" y="376.8" width="4" height="0.9" fill="#444"/>
<rect x="88.30" y="341.50" width="55.50" height="40.70" rx="2" fill="#eeeeee" stroke="#7c7c7c" stroke-width="1.2"/>
<text transform="translate(110.50,363.80) scale(0.420,1)" font-size="8.14" fill="#2a2a2a" font-weight="normal" stroke="#2a2a2a" stroke-width="0.22" vector-effect="non-scaling-stroke" textLength="26.21" lengthAdjust="spacing">SHOP</text>
<rect x="432.50" y="341.10" width="55.60" height="41.70" rx="2" fill="#eeeeee" stroke="#7c7c7c" stroke-width="1.2"/>
<text transform="translate(447.80,364.40) scale(0.449,1)" font-size="8.43" fill="#2a2a2a" font-weight="normal" stroke="#2a2a2a" stroke-width="0.22" vector-effect="non-scaling-stroke" textLength="53.95" lengthAdjust="spacing">GAME PALY</text>
<rect x="539.20" y="312.40" width="184.20" height="102.30" rx="2" fill="#eeeeee" stroke="#7c7c7c" stroke-width="1.2"/>
<text transform="translate(553.00,325.00) scale(0.464,1)" font-size="7.70" fill="#2a2a2a" font-weight="normal" stroke="#2a2a2a" stroke-width="0.22" vector-effect="non-scaling-stroke" textLength="76.37" lengthAdjust="spacing">RANK PROGRESS</text>
<rect x="552.50" y="344.50" width="98.00" height="26.00" rx="0" fill="#f2f2f2" stroke="#777" stroke-width="1"/>
<text transform="translate(581.90,354.20) scale(0.460,1)" font-size="7.85" fill="#2a2a2a" font-weight="normal" stroke="#2a2a2a" stroke-width="0.22" vector-effect="non-scaling-stroke" textLength="77.82" lengthAdjust="spacing">RANK PROGRESS</text>
<polygon points="580.50,357.70 581.88,361.01 585.45,361.29 582.73,363.62 583.56,367.11 580.50,365.24 577.44,367.11 578.27,363.62 575.55,361.29 579.12,361.01" fill="#111"/>
<polygon points="591.35,357.70 592.73,361.01 596.30,361.29 593.58,363.62 594.41,367.11 591.35,365.24 588.29,367.11 589.12,363.62 586.40,361.29 589.97,361.01" fill="#111"/>
<polygon points="602.20,357.70 603.58,361.01 607.15,361.29 604.43,363.62 605.26,367.11 602.20,365.24 599.14,367.11 599.97,363.62 597.25,361.29 600.82,361.01" fill="#111"/>
<polygon points="613.05,357.70 614.43,361.01 618.00,361.29 615.28,363.62 616.11,367.11 613.05,365.24 609.99,367.11 610.82,363.62 608.10,361.29 611.67,361.01" fill="#111"/>
<polygon points="623.90,357.70 625.28,361.01 628.85,361.29 626.13,363.62 626.96,367.11 623.90,365.24 620.84,367.11 621.67,363.62 618.95,361.29 622.52,361.01" fill="#fff" stroke="#111" stroke-width="0.8"/>
<rect x="673.50" y="396.50" width="42.00" height="11.00" rx="0" fill="#f2f2f2" stroke="#7c7c7c" stroke-width="1"/>
<text transform="translate(689.00,405.00) scale(0.424,1)" font-size="7.99" fill="#2a2a2a" font-weight="normal" stroke="#2a2a2a" stroke-width="0.22" vector-effect="non-scaling-stroke" textLength="24.74" lengthAdjust="spacing">BACK</text>
<circle cx="217.70" cy="68.40" r="1.6" fill="#8e8e8e"/>
<path d="M217.70 68.40 L225.20 68.40 L225.20 168.50" fill="none" stroke="#8e8e8e" stroke-width="1.1"/>
<polygon points="225.20,173.00 221.90,168.60 228.50,168.60" fill="#8e8e8e"/>
<circle cx="184.40" cy="203.80" r="1.6" fill="#8e8e8e"/>
<path d="M184.40 203.80 L184.40 197.80 L309.00 197.80" fill="none" stroke="#8e8e8e" stroke-width="1.1"/>
<polygon points="313.30,197.80 308.90,194.50 308.90,201.10" fill="#8e8e8e"/>
<circle cx="433.90" cy="203.80" r="1.6" fill="#8e8e8e"/>
<path d="M433.90 203.80 L433.90 197.80 L534.00 197.80" fill="none" stroke="#8e8e8e" stroke-width="1.1"/>
<polygon points="538.30,197.80 533.90,194.50 533.90,201.10" fill="#8e8e8e"/>
<circle cx="676.50" cy="203.60" r="1.6" fill="#8e8e8e"/>
<path d="M676.50 203.60 L676.50 197.80 L759.50 197.80" fill="none" stroke="#8e8e8e" stroke-width="1.1"/>
<polygon points="763.80,197.80 759.40,194.50 759.40,201.10" fill="#8e8e8e"/>
<circle cx="119.10" cy="273.10" r="1.6" fill="#8e8e8e"/>
<path d="M119.10 273.10 L119.10 337.30" fill="none" stroke="#8e8e8e" stroke-width="1.1"/>
<polygon points="119.10,341.50 115.80,337.10 122.40,337.10" fill="#8e8e8e"/>
<circle cx="211.70" cy="273.10" r="1.6" fill="#8e8e8e"/>
<path d="M211.70 273.10 L211.70 405.00 L302.50 405.00" fill="none" stroke="#8e8e8e" stroke-width="1.1"/>
<polygon points="306.80,405.00 302.40,401.70 302.40,408.30" fill="#8e8e8e"/>
<circle cx="243.00" cy="273.10" r="1.6" fill="#8e8e8e"/>
<path d="M243.00 273.10 L243.00 294.30 L461.20 294.30 L461.20 336.80" fill="none" stroke="#8e8e8e" stroke-width="1.1"/>
<polygon points="461.20,341.10 457.90,336.70 464.50,336.70" fill="#8e8e8e"/>
<circle cx="491.30" cy="362.20" r="1.6" fill="#8e8e8e"/>
<path d="M491.30 362.20 L532.80 362.20" fill="none" stroke="#8e8e8e" stroke-width="1.1"/>
<polygon points="537.10,362.20 532.70,358.90 532.70,365.50" fill="#8e8e8e"/>
<circle cx="695.50" cy="410.50" r="1.6" fill="#8e8e8e"/>
<path d="M695.50 410.50 L695.50 444.20 L51.50 444.20 L51.50 231.00 L82.00 231.00" fill="none" stroke="#8e8e8e" stroke-width="1.1"/>
<polygon points="86.20,231.00 81.80,227.70 81.80,234.30" fill="#8e8e8e"/>
</svg>
</body></html>
